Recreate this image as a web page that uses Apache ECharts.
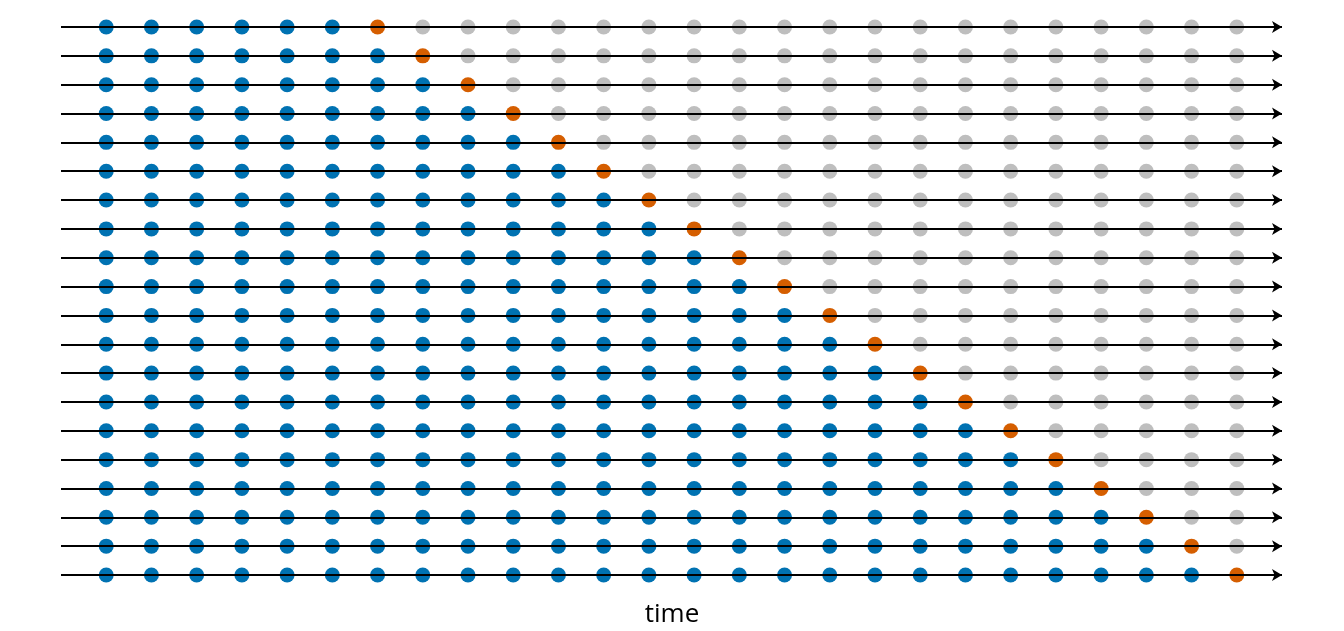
<!DOCTYPE html>
<html>
<head>
<meta charset="utf-8">
<script src="https://cdn.jsdelivr.net/npm/echarts@6/dist/echarts.min.js"></script>
<style>html,body{margin:0;padding:0;background:#fff}#chart{width:1344px;height:631px}</style>
</head>
<body>
<div id="chart"></div>
<script>
// time steps along each row
let timeSteps = [1,2,3,4,5,6,7,8,9,10,11,12,13,14,15,16,17,18,19,20,21,22,23,24,25,26]
// rows (folds), top to bottom
let folds = [1,2,3,4,5,6,7,8,9,10,11,12,13,14,15,16,17,18,19,20]
// last training step in each fold; the next step is the test point
let trainEnd = [6,7,8,9,10,11,12,13,14,15,16,17,18,19,20,21,22,23,24,25]

let trainPts = [], testPts = [], unusedPts = [], arrows = []
for (let i = 0; i < folds.length; i++) {
    let r = folds[i]
    for (let t of timeSteps) {
        if (t <= trainEnd[i]) trainPts.push([t, r])
        else if (t == trainEnd[i] + 1) testPts.push([t, r])
        else unusedPts.push([t, r])
    }
    arrows.push([{ coord: [0, r] }, { coord: [27, r] }])
}

let chart = echarts.init(document.getElementById('chart'))
chart.setOption({
    animation: false,
    grid: { left: 61, right: 62, top: 27, bottom: 56 },
    xAxis: { type: 'value', min: 0, max: 27, show: false },
    yAxis: { type: 'value', min: 1, max: 20, inverse: true, show: false },
    graphic: [{
        type: 'text', left: 'center', top: 602,
        style: { text: 'time', font: '26px "Open Sans"', fill: '#000' }
    }],
    series: [
        {
            type: 'scatter', data: [], silent: true,
            markLine: {
                silent: true, symbol: ['none', 'arrow'], symbolSize: [9, 10],
                label: { show: false },
                lineStyle: { color: '#000', width: 2, type: 'solid' },
                data: arrows
            }
        },
        { type: 'scatter', data: trainPts, symbolSize: 15, itemStyle: { color: '#0072b2', opacity: 1 }, z: 3 },
        { type: 'scatter', data: testPts, symbolSize: 15, itemStyle: { color: '#d55e00', opacity: 1 }, z: 3 },
        { type: 'scatter', data: unusedPts, symbolSize: 15, itemStyle: { color: '#bebebe', opacity: 1 }, z: 3 }
    ]
})
</script>
</body>
</html>
